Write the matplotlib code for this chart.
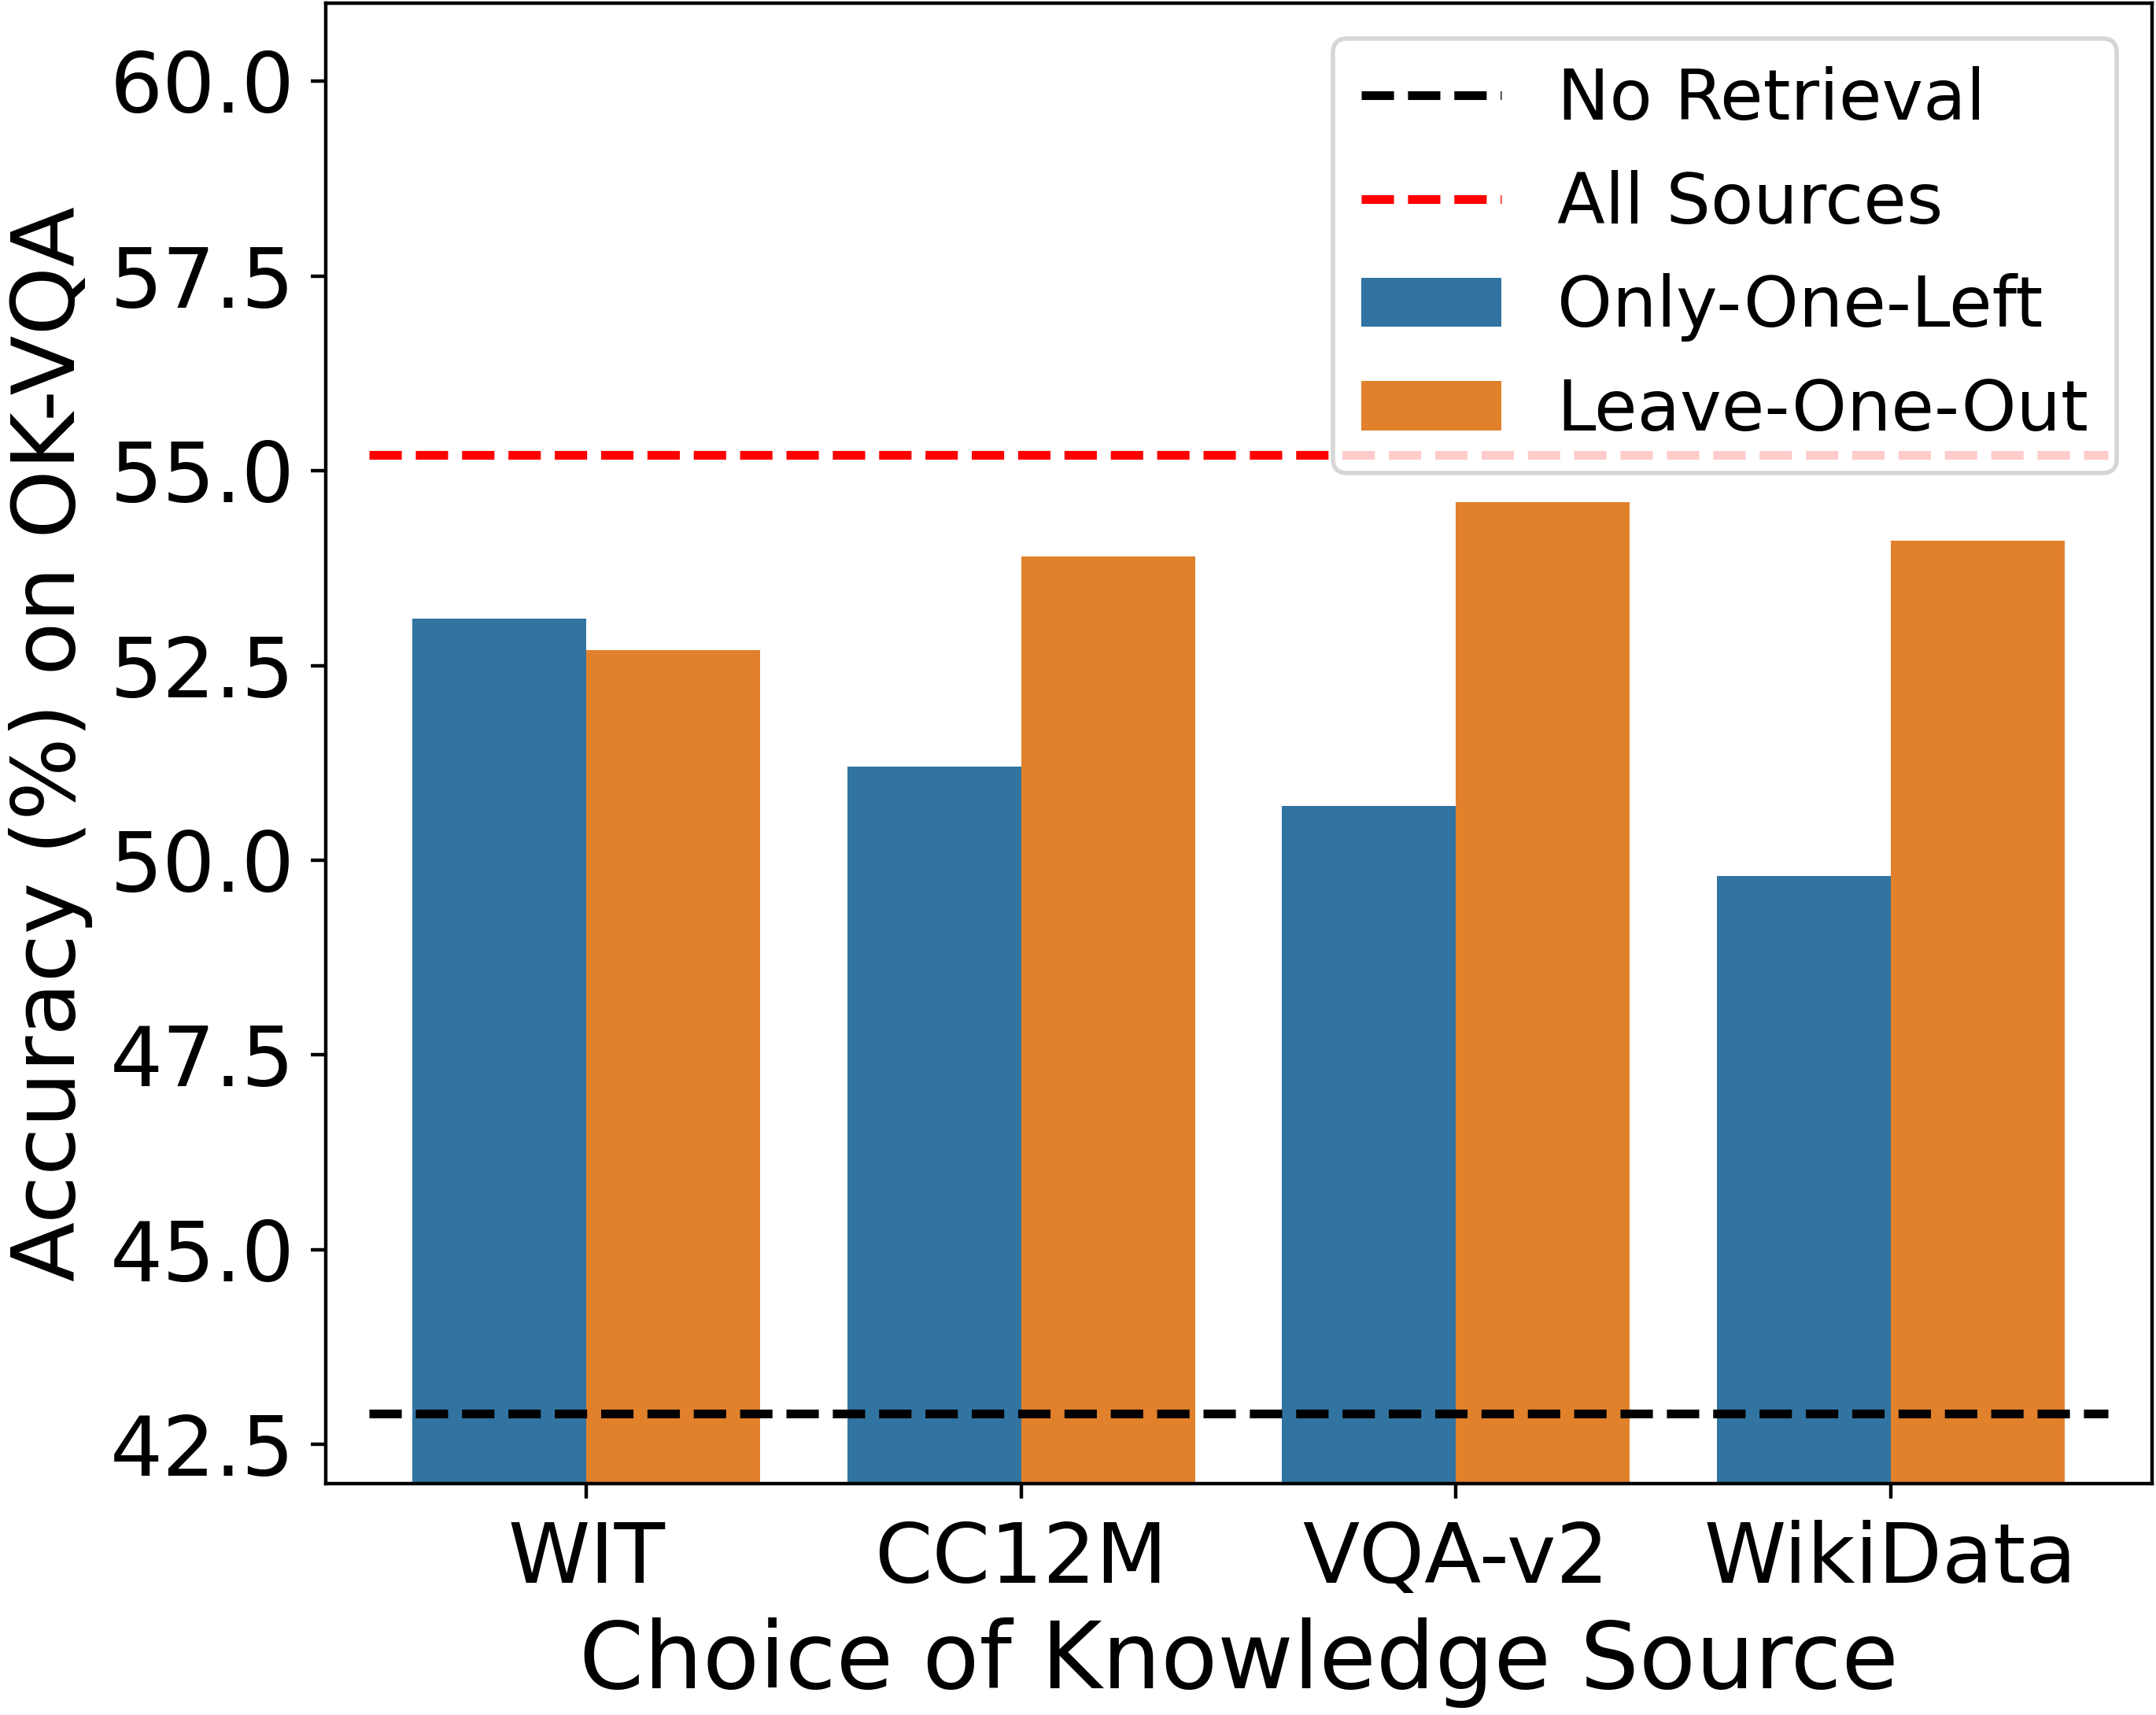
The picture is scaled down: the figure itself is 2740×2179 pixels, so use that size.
import matplotlib
matplotlib.use("Agg")
import matplotlib.pyplot as plt
import numpy as np

# values
sources = ["WIT", "CC12M", "VQA-v2", "WikiData"]
only_one_left = [53.1, 51.2, 50.7, 49.8]
leave_one_out = [52.7, 53.9, 54.6, 54.1]
no_retrieval = 42.9
all_sources = 55.2

blue = "#3274a1"
orange = "#e1812c"

fig, ax = plt.subplots(figsize=(6.85, 5.4475))
fig.subplots_adjust(left=0.151, right=0.998, top=0.998, bottom=0.135)

x = np.arange(len(sources))
w = 0.4

ln1, = ax.plot([-0.5, len(sources) - 0.5], [no_retrieval] * 2, "k--", lw=2, label="No Retrieval")
ln2, = ax.plot([-0.5, len(sources) - 0.5], [all_sources] * 2, "r--", lw=2, label="All Sources")
b1 = ax.bar(x - w / 2, only_one_left, w, color=blue, label="Only-One-Left")
b2 = ax.bar(x + w / 2, leave_one_out, w, color=orange, label="Leave-One-Out")

ax.set_xlim(-0.6, len(sources) - 0.4)
ax.set_ylim(42, 61)
ax.set_yticks([42.5, 45.0, 47.5, 50.0, 52.5, 55.0, 57.5, 60.0])
ax.set_xticks(x)
ax.set_xticklabels(sources)
ax.tick_params(labelsize=19)
ax.tick_params(axis="x", pad=4.8)

ax.set_xlabel("Choice of Knowledge Source", fontsize=21.2)
ax.set_ylabel("Accuracy (%) on OK-VQA", fontsize=20)

ax.legend(handles=[ln1, ln2, b1, b2], loc="upper right", fontsize=16)

fig.savefig("out.png", dpi=400)
plt.close(fig)
